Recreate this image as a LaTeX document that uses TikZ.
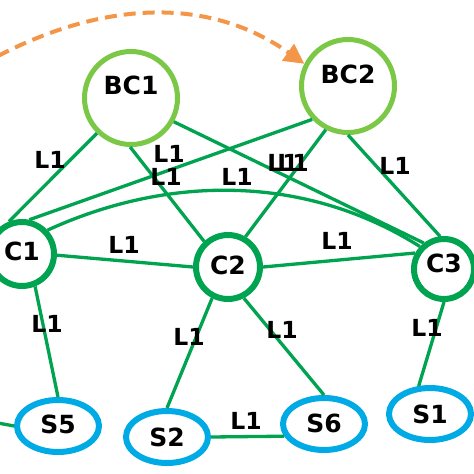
\documentclass[tikz,border=0pt]{standalone}
\usepackage{fontspec}
\setmainfont{DejaVu Sans}
\usetikzlibrary{shapes.geometric,arrows.meta}
\definecolor{dkgreen}{RGB}{0,163,80}
\definecolor{ltgreen}{RGB}{122,200,70}
\definecolor{ringblue}{RGB}{0,170,228}
\definecolor{dashorange}{RGB}{244,150,72}
\tikzset{
  ntext/.style={font=\fontsize{25}{25}\selectfont\bfseries, text=black, inner sep=0pt},
  lbl/.style={font=\fontsize{23.5}{23.5}\selectfont\bfseries, text=black, inner sep=0pt},
  bcnode/.style={circle, draw=ltgreen, line width=5pt, minimum size=93pt, inner sep=0pt, fill=white},
  cnode/.style={circle, draw=dkgreen, line width=6pt, inner sep=0pt, fill=white},
  snode/.style={ellipse, draw=ringblue, line width=6pt, minimum width=82pt, minimum height=52pt, inner sep=0pt, fill=white},
  link/.style={draw=dkgreen, line width=3.3pt},
  move/.style={draw=dashorange, line width=4pt, dash pattern=on 12pt off 7pt, -{Triangle[length=20pt,width=20pt]}}
}
\begin{document}
\begin{tikzpicture}[x=1pt,y=-1pt]
\useasboundingbox (0,0) rectangle (474,474);
\fill[white] (0,0) rectangle (474,474);
% nodes
\node[bcnode, label={[ntext, yshift=13pt]center:BC1}] (bc1) at (131,98) {};
\node[bcnode, label={[ntext, yshift=12pt]center:BC2}] (bc2) at (348,86) {};
\node[cnode, minimum size=64pt, label={[ntext, yshift=3pt]center:C1}] (c1) at (22,254) {};
\node[cnode, minimum size=64pt, label={[ntext, yshift=2pt]center:C2}] (c2) at (228,267) {};
\node[cnode, minimum size=60pt, label={[ntext, yshift=6pt]center:C3}] (c3) at (444,269) {};
\node[snode, label={[ntext, yshift=2pt]center:S5}] (s5) at (58,426) {};
\node[snode, label={[ntext]center:S2}] (s2) at (167,437) {};
\node[snode, label={[ntext, yshift=1pt]center:S6}] (s6) at (324,424) {};
\node[snode, label={[ntext]center:S1}] (s1) at (430,414) {};
\coordinate (stub) at (-2,423);
\coordinate (mstart) at (-2,56);
% links
\path[link] (bc1.226) -- (c1.112);
\path[link] (bc1.269) -- (c2.133);
\path[link] (bc1.331) -- (c3.128);
\path[link] (bc2.223) -- (c1.78);
\path[link] (bc2.243) -- (c2.60);
\path[link] (bc2.270) -- (c3.97);
\path[link] (c1.43) .. controls (170,174) and (307,175) .. (c3.137);
\path[link] (c1.358) -- (c2.180);
\path[link] (c2.0) -- (c3.151);
\path[link] (c1.292) -- (s5.90);
\path[link] (c2.243) -- (s2.90);
\path[link] (c2.297) -- (s6.90);
\path[link] (c3.270) -- (s1.112);
\path[link] (s2.east) -- (s6.197);
\path[link] (stub) -- (s5.west);
% move arrow
\draw[move] (mstart) .. controls (106,0) and (210,-3) .. (bc2.153);
% labels
\node[lbl] (l1) at (50,160) {L1};
\node[lbl] (l2) at (169,154) {L1};
\node[lbl] (l3) at (166,177) {L1};
\node[lbl] (l4) at (237,177) {L1};
\node[lbl] (l5) at (283,163) {L1};
\node[lbl] (l6) at (293,163) {L1};
\node[lbl] (l7) at (395,166) {L1};
\node[lbl] (l8) at (124,245) {L1};
\node[lbl] (l9) at (337,241) {L1};
\node[lbl] (l10) at (47,324) {L1};
\node[lbl] (l11) at (189,337) {L1};
\node[lbl] (l12) at (282,330) {L1};
\node[lbl] (l13) at (427,328) {L1};
\node[lbl] (l14) at (246,421) {L1};
\end{tikzpicture}
\end{document}
